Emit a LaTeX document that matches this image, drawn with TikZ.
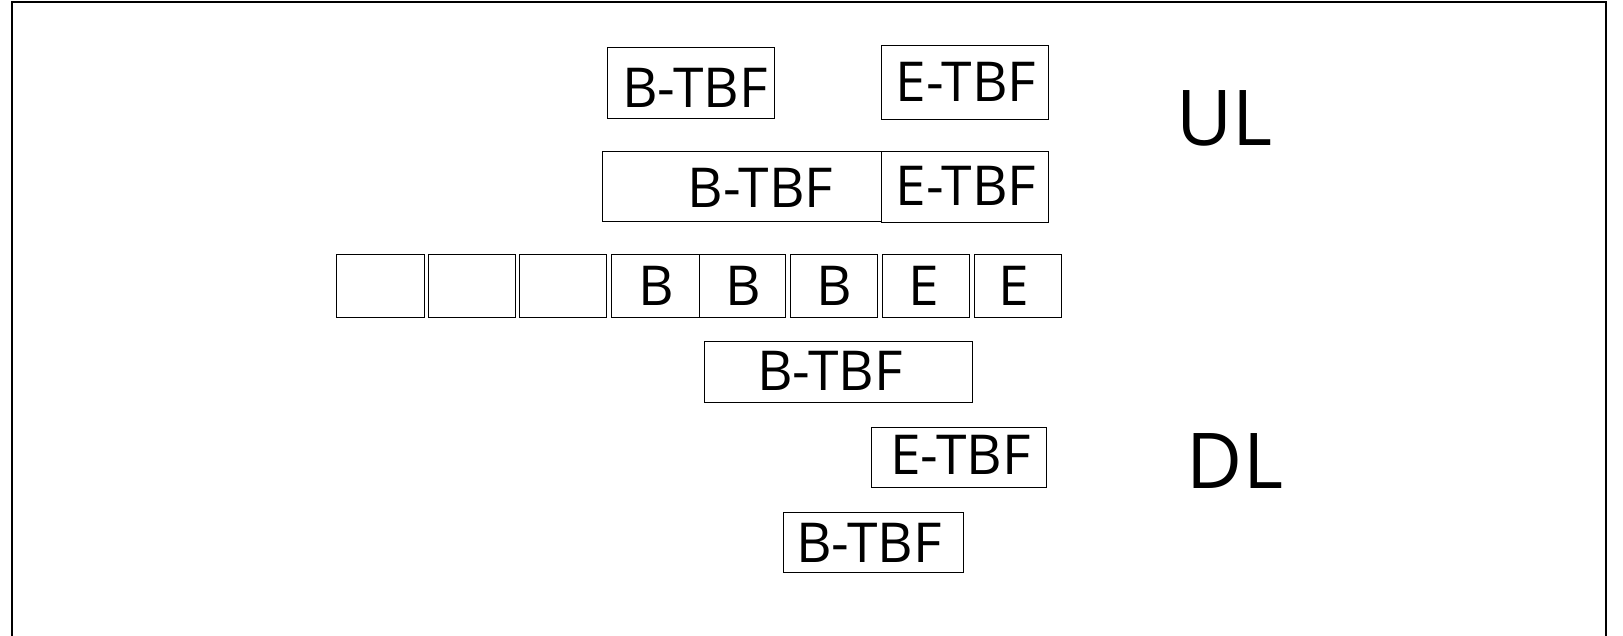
\documentclass[tikz,border=0pt]{standalone}
\usepackage{fontspec}
\setmainfont{Open Sans}
\begin{document}
\begin{tikzpicture}[x=1pt,y=-1pt,
  box/.style={draw, line width=1pt, inner sep=0pt, outer sep=0pt, anchor=north west},
  lbl/.style={anchor=base, inner sep=0pt, outer sep=0pt, font=\fontsize{53}{62}\selectfont},
  lble/.style={lbl, font=\fontsize{55}{64}\selectfont},
  big/.style={anchor=base, inner sep=0pt, font=\fontsize{77}{90}\selectfont}]
\useasboundingbox (0,0) rectangle (1623,636);
% frame
\draw[line width=1.5pt] (12,640) -- (12,2) -- (1606,2) -- (1606,640);
% row 1
\node[box, minimum width=167, minimum height=71] (r1b) at (607,48) {};
\node[lble] (t1b) at (695,108) {B-TBF};
\node[box, minimum width=167, minimum height=74] (r1e) at (881,46) {};
\node[lble] (t1e) at (966,102) {E-TBF};
% row 2
\node[box, minimum width=279, minimum height=70] (r2b) at (602,152) {};
\node[lble] (t2b) at (760.5,208) {B-TBF};
\node[box, minimum width=167, minimum height=71] (r2e) at (881,152) {};
\node[lble] (t2e) at (966,206) {E-TBF};
% row 3
\node[box, minimum width=88, minimum height=63] (s1) at (336,255) {};
\node[box, minimum width=87, minimum height=63] (s2) at (428,255) {};
\node[box, minimum width=87, minimum height=63] (s3) at (519,255) {};
\node[box, minimum width=88, minimum height=63] (s4) at (611,255) {};
\node[box, minimum width=86, minimum height=63] (s5) at (699,255) {};
\node[box, minimum width=87, minimum height=63] (s6) at (790,255) {};
\node[box, minimum width=87, minimum height=63] (s7) at (882,255) {};
\node[box, minimum width=87, minimum height=63] (s8) at (974,255) {};
\node[lble] (l4) at (656,306) {B};
\node[lble] (l5) at (743,306) {B};
\node[lble] (l6) at (834,306) {B};
\node[lble] (l7) at (924,306) {E};
\node[lble] (l8) at (1014,306) {E};
% row 4
\node[box, minimum width=268, minimum height=60] (r4) at (704,342) {};
\node[lble] (t4) at (830,391) {B-TBF};
% row 5
\node[box, minimum width=175, minimum height=60] (r5) at (871,427) {};
\node[lble] (t5) at (960.5,474) {E-TBF};
% row 6
\node[box, minimum width=180, minimum height=60] (r6) at (783,512) {};
\node[lble] (t6) at (869,562) {B-TBF};
% side labels
\node[big] (ul) at (1224.5,146) {UL};
\node[big] (dl) at (1235,488) {DL};
\end{tikzpicture}
\end{document}
